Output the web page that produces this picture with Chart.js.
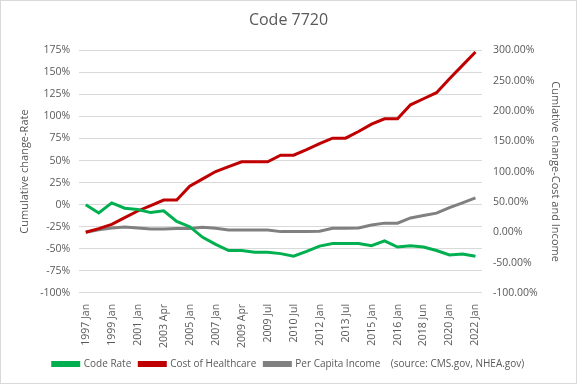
<!DOCTYPE html>
<html>
<head>
<meta charset="utf-8">
<script src="https://cdn.jsdelivr.net/npm/chart.js@4"></script>
<style>
  body { margin: 0; background: #fff; }
  #wrap { width: 575px; height: 382px; border: 1px solid #d9d9d9; }
</style>
</head>
<body>
<div id="wrap"><canvas id="myChart"></canvas></div>
<script>
// Category labels (only every other one is shown on the axis)
var periods = ["1997 Jan","1998 Jan","1999 Jan","2000 Jan","2001 Jan","2002 Jan","2003 Apr","2004 Jan",
  "2005 Jan","2006 Jan","2007 Jan","2008 Jan","2009 Apr","2009 May","2009 Jul","2010 Jan","2010 Jul",
  "2011 Jan","2012 Jan","2013 Jan","2013 Jul","2014 Jan","2015 Jan","2015 Jul","2016 Jan","2017 Jan",
  "2018 Jun","2019 Jan","2020 Jan","2021 Jan","2022 Jan"];

// Left axis (%)
var codeRate = [0,-9.5,2,-4,-5.5,-9,-7,-19,-25,-37,-45,-52,-52,-54,-54,-55.5,-58.5,-53,-47,-44,-44,-44,-46.5,-41,-48,-46.5,-48,-52,-57,-56,-58.5];
// Right axis (%)
var healthCost = [0,6,13,24,35,44,53,53,76,88,100,108,116,116,116,127,127,136,146,155,155,166,178,187,187,210,220,230,253,275,297];
var capitaIncome = [0,4,7,8.5,7,5.5,5.5,6,6,8,6.5,3.5,3.5,3.5,3.5,1,1,1,1.5,6.5,6.5,7,12,15,15,23.5,27.5,31.5,40.5,48.5,56.5];

var fontFam = "'Open Sans', sans-serif";
var txt = "#595959";

var ctx = document.getElementById("myChart");
var myChart = new Chart(ctx, {
  type: 'line',
  data: {
    labels: periods,
    datasets: [
      {
        data: codeRate,
        label: "Code Rate",
        borderColor: "#00b050",
        backgroundColor: "#00b050",
        yAxisID: 'y',
        fill: false
      },
      {
        data: healthCost,
        label: "Cost of Healthcare",
        borderColor: "#c00000",
        backgroundColor: "#c00000",
        yAxisID: 'y1',
        fill: false
      },
      {
        data: capitaIncome,
        label: "Per Capita Income    (source: CMS.gov, NHEA.gov)",
        borderColor: "#808080",
        backgroundColor: "#808080",
        yAxisID: 'y1',
        fill: false
      }
    ]
  },
  options: {
    responsive: true,
    maintainAspectRatio: false,
    animation: false,
    elements: {
      point: { radius: 0 },
      line: { borderWidth: 3, tension: 0 }
    },
    layout: { padding: { left: 0, right: 0, top: 0, bottom: 4 } },
    plugins: {
      title: {
        display: true,
        text: "Code 7720",
        color: txt,
        font: { family: fontFam, size: 16, weight: 'normal' },
        padding: { top: 10, bottom: 20 }
      },
      legend: {
        position: 'bottom',
        labels: {
          boxWidth: 26,
          boxHeight: 3,
          color: txt,
          font: { family: fontFam, size: 10 },
          padding: 8
        }
      },
      tooltip: { enabled: false }
    },
    scales: {
      x: {
        offset: true,
        grid: { display: false },
        border: { display: false },
        ticks: {
          autoSkip: false,
          maxRotation: 90,
          minRotation: 90,
          color: txt,
          font: { family: fontFam, size: 10.5 },
          padding: 3,
          callback: function (val, idx) {
            return idx % 2 === 0 ? this.getLabelForValue(val) : '';
          }
        }
      },
      y: {
        position: 'left',
        min: -100,
        max: 175,
        grid: { color: '#d9d9d9', drawTicks: false },
        border: { display: false },
        ticks: {
          stepSize: 25,
          color: txt,
          padding: 9,
          font: { family: fontFam, size: 10.5 },
          callback: function (v) { return v + '%'; }
        },
        title: {
          display: true,
          text: "Cumulative change-Rate",
          color: txt,
          font: { family: fontFam, size: 11 },
          padding: { top: 17, bottom: 0 }
        }
      },
      y1: {
        position: 'right',
        min: -100,
        max: 300,
        grid: { drawOnChartArea: false, drawTicks: false },
        border: { display: false },
        ticks: {
          stepSize: 50,
          color: txt,
          padding: 11,
          font: { family: fontFam, size: 10.5 },
          callback: function (v) { return v.toFixed(2) + '%'; }
        },
        title: {
          display: true,
          text: "Cumlative change-Cost and Income",
          color: txt,
          font: { family: fontFam, size: 11 },
          padding: { top: 14, bottom: 0 }
        }
      }
    }
  }
});
</script>
</body>
</html>
